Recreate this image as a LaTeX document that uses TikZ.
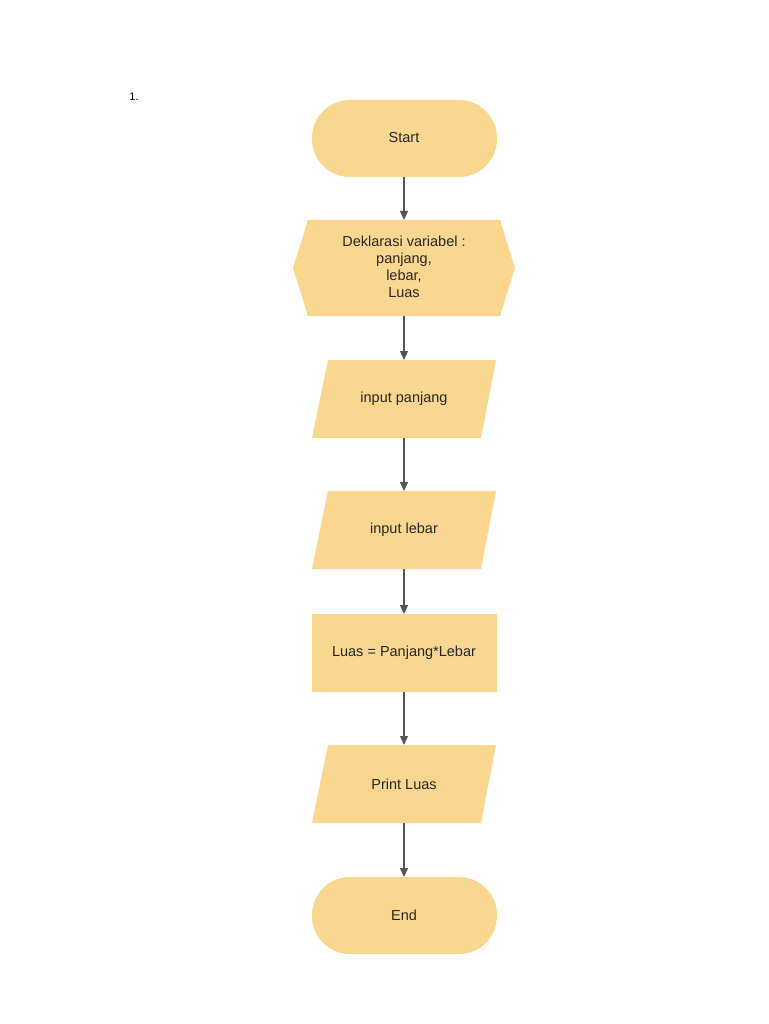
\documentclass[tikz,border=0pt]{standalone}
\usepackage{fontspec}
\setmainfont{Liberation Sans}
\usetikzlibrary{arrows.meta}
\definecolor{fc}{HTML}{FBD68E}
\definecolor{ac}{HTML}{555555}
\tikzset{shp/.style={fill=fc,draw=none},
 lbl/.style={font=\fontsize{14.5}{17}\selectfont,align=center,text=black!85},
 arr/.style={draw=ac,line width=1.2pt,-{Triangle[length=9pt,width=8pt]}}}
\begin{document}
\begin{tikzpicture}[x=1pt,y=-1pt]
\useasboundingbox (0,0) rectangle (768,1024);
\node[font=\fontsize{11}{13}\selectfont] at (134,97) {1.};
% start
\fill[shp,rounded corners=38pt] (312,100) rectangle (497,177);
\node[lbl] (start) at (404,138) {Start};
\coordinate (s1) at (404,177);
% hexagon
\fill[shp] (293,268) -- (308,220) -- (500,220) -- (515,268) -- (500,316) -- (308,316) -- cycle;
\node[lbl] (decl) at (404,267) {Deklarasi variabel :\\panjang,\\lebar,\\Luas};
\coordinate (d0) at (404,220); \coordinate (d1) at (404,316);
% input panjang
\fill[shp] (328,360) -- (496,360) -- (481,438) -- (312,438) -- cycle;
\node[lbl] (ip) at (404,399) {input panjang};
\coordinate (p0) at (404,360); \coordinate (p1) at (404,438);
% input lebar
\fill[shp] (328,491) -- (496,491) -- (481,569) -- (312,569) -- cycle;
\node[lbl] (il) at (404,530) {input lebar};
\coordinate (l0) at (404,491); \coordinate (l1) at (404,569);
% process
\fill[shp] (312,614) rectangle (497,692);
\node[lbl] (proc) at (404,653) {Luas = Panjang*Lebar};
\coordinate (r0) at (404,614); \coordinate (r1) at (404,692);
% print
\fill[shp] (328,745) -- (496,745) -- (481,823) -- (312,823) -- cycle;
\node[lbl] (pr) at (404,784) {Print Luas};
\coordinate (q0) at (404,745); \coordinate (q1) at (404,823);
% end
\fill[shp,rounded corners=38pt] (312,877) rectangle (497,954);
\node[lbl] (en) at (404,915) {End};
\coordinate (e0) at (404,877);
\draw[arr] (s1) -- (d0);
\draw[arr] (d1) -- (p0);
\draw[arr] (p1) -- (l0);
\draw[arr] (l1) -- (r0);
\draw[arr] (r1) -- (q0);
\draw[arr] (q1) -- (e0);
\end{tikzpicture}
\end{document}
